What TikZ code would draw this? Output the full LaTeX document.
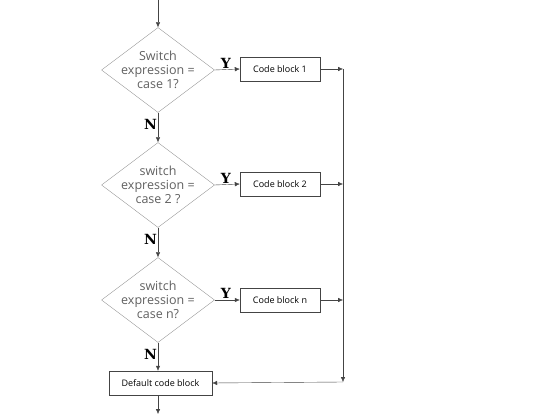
\documentclass[tikz,border=0pt]{standalone}
\usepackage{fontspec}
\setsansfont{Open Sans}
\newfontfamily\ynfont{DejaVu Serif}
\usetikzlibrary{shapes.geometric,arrows.meta,positioning}
\definecolor{linegray}{HTML}{444444}
\definecolor{textgray}{HTML}{606060}
\tikzset{
  decision/.style={draw=gray!80, diamond, aspect=1.33, minimum width=113pt, minimum height=85pt, inner sep=0pt},
  dtext/.style={font=\sffamily\fontsize{12.5}{14}\selectfont, text=textgray, align=center},
  block/.style={draw=linegray, rectangle, minimum height=24pt, inner sep=2pt, font=\sffamily\fontsize{9}{10}\selectfont},
  yn/.style={font=\ynfont\bfseries\fontsize{14}{14}\selectfont, inner sep=1pt},
  arrow/.style={draw=linegray, -{Latex[length=5pt,width=4.5pt]}}
}
\begin{document}
\begin{tikzpicture}[x=1pt,y=-1pt]
                \useasboundingbox (0,0) rectangle (542,420);
                \coordinate (start) at (158,0);
                \node[decision, label={[dtext]center:Switch\\expression =\\case 1?}] (D1) at (158,70) {};
                \node[decision, label={[dtext]center:switch\\expression =\\case 2 ?}] (D2) at (158,185) {};
                \node[decision, label={[dtext]center:switch\\expression =\\case n?}] (D3) at (158,300) {};

                \node[block, minimum width=80pt] (B1) at (280,69) {Code block 1};
                \node[block, minimum width=80pt] (B2) at (280,184) {Code block 2};
                \node[block, minimum width=80pt] (B3) at (280,300) {Code block n};
                \node[block, minimum width=103pt] (DEF) at (160.5,383) {Default code block};

                \coordinate (R1) at (343,69);
                \coordinate (R2) at (343,184);
                \coordinate (R3) at (343,300);
                \coordinate (RC) at (343,382);
                \coordinate (end) at (158,414);

                \draw[arrow] (start) -- (D1.north);
                \draw[arrow] (D1.east) -- node[yn, above, pos=0.45] {Y} (B1.west);
                \draw[arrow] (D2.east) -- node[yn, above, pos=0.45] {Y} (B2.west);
                \draw[arrow] (D3.east) -- node[yn, above, pos=0.45] {Y} (B3.west);
                \draw[arrow] (D1.south) -- node[yn, left, pos=0.4] {N} (D2.north);
                \draw[arrow] (D2.south) -- node[yn, left, pos=0.4] {N} (D3.north);
                \draw[arrow] (D3.south) -- node[yn, left, pos=0.4] {N} (D3.south |- DEF.north);

                \draw[arrow] (B1.east) -- (R1);
                \draw[arrow] (B2.east) -- (R2);
                \draw[arrow] (B3.east) -- (R3);
                \draw[arrow] (R1) -- (RC);
                \draw[arrow] (RC) -- (DEF.east);
                \draw[arrow] (D3.south |- DEF.south) -- (end);
            \end{tikzpicture}
\end{document}
